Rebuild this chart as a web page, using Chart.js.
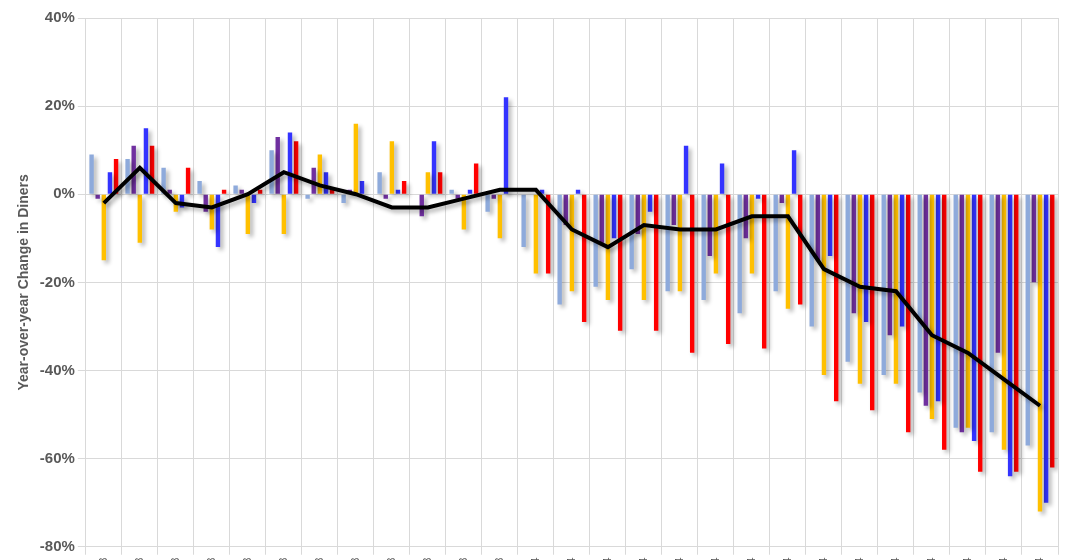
<!DOCTYPE html>
<html>
<head>
<meta charset="utf-8">
<script src="https://cdn.jsdelivr.net/npm/chart.js@4"></script>
<style>
    html, body { margin: 0; padding: 0; background: #fff; overflow: hidden; width: 1066px; height: 560px; }
    #wrap { position: relative; width: 1066px; height: 609px; }
</style>
</head>
<body>
<div id="wrap"><canvas id="chart"></canvas></div>
<script>
// Months (labels are cropped at the bottom in the reference)
const labels = [
    'Jan 2023', 'Feb 2023', 'Mar 2023', 'Apr 2023', 'May 2023', 'Jun 2023',
    'Jul 2023', 'Aug 2023', 'Sep 2023', 'Oct 2023', 'Nov 2023', 'Dec 2023',
    'Jan 2024', 'Feb 2024', 'Mar 2024', 'Apr 2024', 'May 2024', 'Jun 2024',
    'Jul 2024', 'Aug 2024', 'Sep 2024', 'Oct 2024', 'Nov 2024', 'Dec 2024',
    'Jan 2024', 'Feb 2024', 'Mar 2024'
];

const seriesA = [9, 8, 6, 3, 2, 10, -1, -2, 5, 0, 1, -4, -12, -25, -21, -17, -22, -24, -27, -22, -30, -38, -41, -45, -53, -54, -57];
const seriesB = [-1, 11, 1, -4, 1, 13, 6, 1, -1, -5, -1, -1, 0, -7, -11, -9, -7, -14, -10, -2, -15, -27, -32, -48, -54, -36, -20];
const seriesC = [-15, -11, -4, -8, -9, -9, 9, 16, 12, 5, -8, -10, -18, -22, -24, -24, -22, -18, -18, -26, -41, -43, -43, -51, -53, -58, -72];
const seriesD = [5, 15, -3, -12, -2, 14, 5, 3, 1, 12, 1, 22, 1, 1, -10, -4, 11, 7, -1, 10, -14, -29, -30, -47, -56, -64, -70];
const seriesE = [8, 11, 6, 1, 1, 12, 1, 0, 3, 5, 7, 0, -18, -29, -31, -31, -36, -34, -35, -25, -47, -49, -54, -58, -63, -63, -62];
const average = [-2, 6, -2, -3, 0, 5, 2, 0, -3, -3, -1, 1, 1, -8, -12, -7, -8, -8, -5, -5, -17, -21, -22, -32, -36, -42, -48];

// soft drop shadow like the spreadsheet export
const shadowPlugin = {
    id: 'shadow',
    beforeDatasetDraw(chart) {
        const ctx = chart.ctx;
        ctx.save();
        ctx.shadowColor = 'rgba(0,0,0,0.3)';
        ctx.shadowBlur = 4;
        ctx.shadowOffsetX = 3;
        ctx.shadowOffsetY = 3;
    },
    afterDatasetDraw(chart) {
        chart.ctx.restore();
    }
};

const bar = (data, color) => ({
    type: 'bar', data, backgroundColor: color,
    barPercentage: 0.72, categoryPercentage: 0.85, order: 2
});

new Chart(document.getElementById('chart'), {
    data: {
        labels,
        datasets: [
            { type: 'line', data: average, borderColor: '#000', borderWidth: 4,
              pointRadius: 0, tension: 0, order: 1 },
            bar(seriesA, '#8eaadb'),
            bar(seriesB, '#7030a0'),
            bar(seriesC, '#ffc000'),
            bar(seriesD, '#3333ff'),
            bar(seriesE, '#ff0000')
        ]
    },
    options: {
        responsive: true,
        maintainAspectRatio: false,
        animation: false,
        layout: { padding: { top: 18, right: 8, left: 12 } },
        plugins: { legend: { display: false }, tooltip: { enabled: false } },
        scales: {
            x: {
                grid: { color: '#d9d9d9', offset: true },
                border: { color: '#d9d9d9' },
                ticks: { color: '#595959', maxRotation: 90, minRotation: 90,
                         font: { family: 'Calibri, Carlito, "Liberation Sans", sans-serif', size: 12 } }
            },
            y: {
                min: -80, max: 40,
                ticks: { stepSize: 20, color: '#595959', callback: v => v + '%',
                         font: { family: '"Liberation Sans", sans-serif', size: 15, weight: 'bold' } },
                grid: { color: '#d9d9d9' },
                border: { display: false },
                title: { display: true, text: 'Year-over-year Change in Diners', color: '#595959',
                         font: { family: '"Liberation Sans", sans-serif', size: 14, weight: 'bold' } }
            }
        }
    },
    plugins: [shadowPlugin]
});
</script>
</body>
</html>
